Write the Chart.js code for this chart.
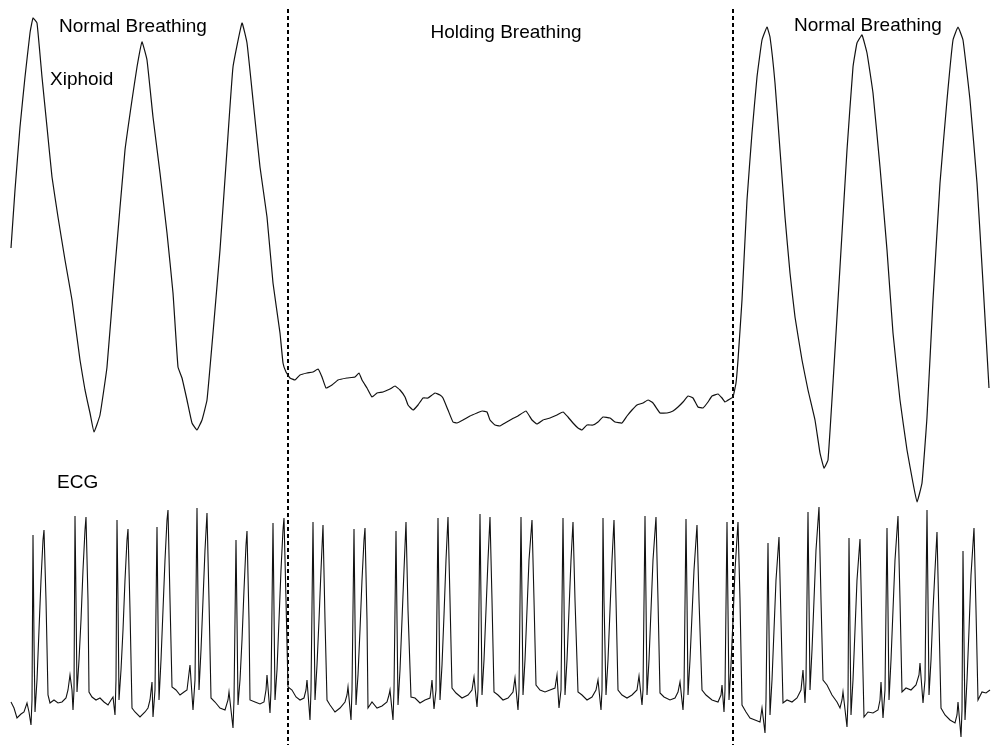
<!DOCTYPE html>
<html>
<head>
<meta charset="utf-8">
<script src="https://cdn.jsdelivr.net/npm/chart.js@4"></script>
<style>
  html, body { margin: 0; padding: 0; background: #fff; }
  canvas { display: block; }
</style>
</head>
<body>
<canvas id="grafica" width="1000" height="751"></canvas>
<script>
// Xiphoid (respiration) signal: sample index and displacement
const xiphoidT = [
  11, 15, 20, 25, 30, 33, 37, 42, 47, 52, 58, 65, 72, 80, 85, 90, 94, 100, 107, 115,
  125, 132, 137, 142, 147, 153, 160, 167, 173, 178, 182, 187, 192, 197, 202, 207, 213, 220, 227, 233,
  242, 247, 253, 260, 267, 273, 280, 283, 286,
  290, 295, 300, 307, 313, 318, 322, 326, 332, 338, 347, 355, 359, 362, 367, 372, 377, 383, 390, 395,
  400, 405, 408, 413, 418, 423, 428, 435, 440, 443, 448, 453, 457, 463, 470, 477, 482, 487, 490, 495,
  500, 505, 512, 518, 526, 532, 537, 543, 550, 557, 563, 568, 573, 578, 582, 587, 593, 598, 603, 610,
  615, 622, 627, 632, 637, 643, 648, 653, 660, 667, 673, 678, 683, 688, 693, 698, 703, 708, 712, 718,
  722, 725, 730, 733,
  736, 738, 742, 747, 752, 757, 762, 767, 770, 775, 780, 785, 790, 795, 802, 808, 815, 820, 824, 828,
  833, 840, 847, 853, 857, 862, 867, 873, 880, 887, 893, 900, 907, 913, 917, 922, 927, 933, 940, 947,
  953, 958, 963, 970, 977, 983, 989
];
const xiphoidV = [
  -8, 50, 113, 163, 207, 222, 217, 163, 113, 63, 23, -20, -60, -120, -150, -173, -192, -175, -127, -27,
  90, 140, 173, 198, 180, 123, 67, 7, -53, -127, -138, -160, -183, -190, -180, -160, -93, -10, 90, 173,
  217, 197, 140, 73, 23, -43, -93, -123, -132,
  -138, -140, -135, -133, -132, -129, -137, -148, -145, -140, -138, -137, -133, -140, -148, -157, -153, -152, -149, -146,
  -150, -157, -165, -170, -165, -158, -158, -153, -155, -158, -170, -182, -183, -180, -176, -173, -171, -172, -180, -185,
  -186, -183, -179, -176, -171, -180, -184, -180, -178, -175, -172, -177, -183, -188, -190, -185, -185, -182, -177, -178,
  -182, -183, -176, -170, -165, -163, -160, -163, -173, -173, -171, -167, -162, -156, -158, -167, -168, -162, -156, -154,
  -158, -162, -159, -157,
  -143, -120, -60, 40, 107, 163, 200, 213, 203, 157, 90, 23, -33, -77, -120, -150, -180, -213, -228, -220,
  -143, -27, 90, 173, 197, 205, 187, 147, 73, -10, -93, -160, -210, -243, -262, -243, -177, -60, 57, 140,
  200, 213, 200, 140, 57, -43, -148
];

// ECG signal: sample index and amplitude
const ecgT = [
  11, 14, 17, 21, 24, 27, 29, 31, 32, 33, 34, 35, 37, 39, 41, 43, 44, 46, 48, 50, 54, 58, 62, 66,
  68, 70, 72, 73, 74, 75, 76, 77, 79, 81, 83, 85, 86, 88, 89, 92, 96, 100, 104, 108, 111,
  113, 115, 116, 117, 118, 119, 121, 123, 125, 127, 128, 130, 132, 135, 140, 145, 148, 150,
  152, 153, 155, 157, 158, 159, 161, 163, 165, 167, 168, 170, 172, 176, 180, 184, 187,
  190, 193, 195, 197, 198, 199, 201, 203, 205, 207, 209, 211, 215, 220, 225, 228,
  229, 233, 234, 236, 237, 238, 240, 242, 244, 246, 247, 249, 250, 255, 260, 264, 266,
  267, 270, 271, 273, 274, 275, 277, 279, 281, 283, 284, 286, 288, 292, 296, 300, 304, 306,
  307, 310, 311, 313, 314, 315, 317, 319, 321, 323, 325, 327, 330, 335, 340, 345, 347,
  348, 351, 352, 354, 355, 356, 358, 360, 362, 364, 365, 367, 368, 372, 377, 382, 387, 389,
  390, 393, 394, 396, 397, 398, 400, 402, 404, 406, 408, 411, 415, 420, 425, 430, 431,
  432, 434, 436, 438, 439, 440, 442, 444, 446, 448, 450, 452, 456, 462, 468, 472,
  474, 477, 478, 480, 481, 482, 484, 486, 488, 490, 492, 494, 498, 503, 508, 513,
  515, 518, 519, 521, 522, 523, 525, 527, 529, 532, 534, 536, 540, 545, 550, 555,
  557, 559, 561, 563, 564, 565, 567, 569, 571, 573, 575, 578, 582, 587, 592, 596,
  598, 601, 602, 603, 604, 606, 608, 610, 612, 614, 616, 618, 622, 627, 632, 637,
  639, 642, 643, 645, 646, 647, 649, 651, 653, 656, 658, 660, 664, 670, 675, 678,
  680, 683, 684, 686, 687, 688, 690, 692, 694, 697, 699, 702, 706, 712, 718, 721,
  722, 724, 725, 727, 728, 729, 731, 733, 735, 738, 740, 742, 746, 750, 755, 760,
  762, 765, 766, 768, 769, 770, 772, 774, 776, 779, 781, 783, 787, 792, 797, 801,
  803, 805, 806, 808, 809, 810, 812, 814, 816, 819, 821, 823, 827, 832, 837, 840, 842,
  843, 847, 848, 849, 850, 851, 853, 855, 857, 860, 862, 864, 868, 873, 878, 880,
  881, 883, 885, 887, 888, 889, 891, 893, 895, 898, 900, 902, 906, 911, 916, 919,
  920, 923, 925, 927, 928, 929, 931, 933, 935, 937, 939, 941, 945, 950, 955, 957,
  958, 961, 962, 963, 964, 965, 967, 969, 971, 974, 976, 978, 982, 986, 990
];
const ecgV = [
  -2, -8, -18, -14, -12, -3, -12, -25, 0, 165, 60, -12, 20, 70, 120, 160, 170, 100, 5, -3, 0, -3, -2, 2,
  10, 25, 10, -10, 10, 184, 100, 8, 40, 80, 130, 170, 183, 100, 8, 3, 0, 2, -2, -5, 0,
  3, -15, 20, 180, 100, 0, 30, 70, 120, 160, 171, 90, -8, -12, -17, -12, -8, 0,
  18, -17, 10, 173, 80, 0, 40, 90, 140, 180, 190, 100, 13, 10, 5, 8, 10,
  35, -10, 20, 192, 100, 10, 50, 100, 150, 187, 100, 2, -2, -8, -10, 0,
  8, -28, 0, 160, 80, -5, 20, 60, 110, 155, 169, 80, 0, -2, -4, -2, 10,
  25, -13, 10, 177, 90, 0, 30, 80, 130, 170, 182, 100, 13, 10, 3, 0, 2, 10,
  20, -20, 10, 178, 90, 0, 35, 80, 130, 175, 80, 0, -5, -12, -8, -2, 5,
  13, -20, 10, 171, 80, -5, 25, 70, 120, 160, 172, 80, -8, -2, -8, -6, -2, 5,
  10, -20, 10, 169, 80, -5, 30, 80, 130, 178, 90, 3, 2, -3, 0, 2, 10,
  20, -9, 10, 182, 90, 0, 35, 85, 140, 183, 100, 12, 7, 2, 5, 10,
  23, -7, 10, 186, 100, 5, 40, 90, 140, 183, 100, 8, 5, 0, 2, 8,
  22, -10, 10, 183, 100, 5, 40, 90, 140, 180, 100, 15, 10, 8, 10, 12,
  25, -8, 10, 182, 100, 5, 40, 90, 140, 178, 100, 8, 5, 0, 3, 10,
  20, -10, 10, 182, 100, 5, 40, 90, 140, 180, 100, 10, 5, 2, 5, 10,
  24, -5, 10, 184, 100, 5, 40, 90, 140, 183, 100, 7, 3, 0, 2, 8,
  18, -10, 10, 181, 100, 5, 40, 85, 130, 175, 100, 10, 5, 0, -2, 5,
  15, -12, 10, 178, 90, 0, 35, 80, 130, 178, 100, -5, -12, -18, -20, -22,
  -8, -33, 0, 157, 70, -15, 20, 70, 120, 163, 80, -3, 0, -2, 2, 10,
  30, -3, 20, 188, 100, 10, 50, 100, 150, 193, 100, 20, 15, 5, -2, -8, 0,
  8, -27, 0, 162, 70, -15, 20, 70, 120, 161, 70, -17, -12, -13, -10, 0,
  18, -18, 10, 172, 90, 0, 40, 90, 140, 184, 100, 8, 12, 10, 15, 25,
  37, -3, 20, 190, 100, 5, 40, 90, 130, 168, 80, -8, -15, -20, -23, -15,
  -2, -37, -10, 149, 60, -20, 20, 70, 125, 172, 90, 0, 8, 7, 10
];

// Markers between phases (sample index) and the text labels
const phaseMarks = [288, 733];
const labelText = ['Normal Breathing', 'Holding Breathing', 'Normal Breathing', 'Xiphoid', 'ECG'];
const labelT = [133, 506, 868, 50, 57];
const labelV = [208, 202, 209, 155, -248];
const labelAlign = ['center', 'center', 'center', 'left', 'left'];

const puntos = (ts, vs) => ts.map((t, i) => ({ x: t, y: vs[i] }));

const datasets = [
  {
    label: 'Xiphoid',
    data: puntos(xiphoidT, xiphoidV),
    yAxisID: 'yResp',
    borderColor: '#111',
    borderWidth: 1.2,
    tension: 0.1
  },
  {
    label: 'ECG',
    data: puntos(ecgT, ecgV),
    yAxisID: 'yEcg',
    borderColor: '#111',
    borderWidth: 1.1,
    tension: 0
  }
];

phaseMarks.forEach(m => {
  datasets.push({
    label: 'marca',
    data: [{ x: m, y: 231 }, { x: m, y: -505 }],
    yAxisID: 'yResp',
    borderColor: '#000',
    borderWidth: 2,
    borderDash: [4, 3]
  });
});

// Dibuja las etiquetas en posiciones de datos
const etiquetas = {
  id: 'etiquetas',
  afterDatasetsDraw(chart) {
    const { ctx, scales } = chart;
    ctx.save();
    ctx.fillStyle = '#000';
    ctx.font = '19px "Liberation Sans", Arial, sans-serif';
    ctx.textBaseline = 'alphabetic';
    labelText.forEach((txt, i) => {
      ctx.textAlign = labelAlign[i];
      ctx.fillText(txt, scales.x.getPixelForValue(labelT[i]), scales.yResp.getPixelForValue(labelV[i]));
    });
    ctx.restore();
  }
};

new Chart(document.getElementById('grafica').getContext('2d'), {
  type: 'line',
  data: { datasets },
  options: {
    responsive: false,
    devicePixelRatio: 1,
    animation: false,
    layout: { padding: 0 },
    elements: { point: { radius: 0 } },
    scales: {
      x: { type: 'linear', min: 0, max: 1000, display: false },
      yResp: { type: 'linear', min: -511, max: 240, display: false },
      yEcg: { type: 'linear', min: -51, max: 700, display: false }
    },
    plugins: {
      legend: { display: false },
      tooltip: { enabled: false }
    }
  },
  plugins: [etiquetas]
});
</script>
</body>
</html>
